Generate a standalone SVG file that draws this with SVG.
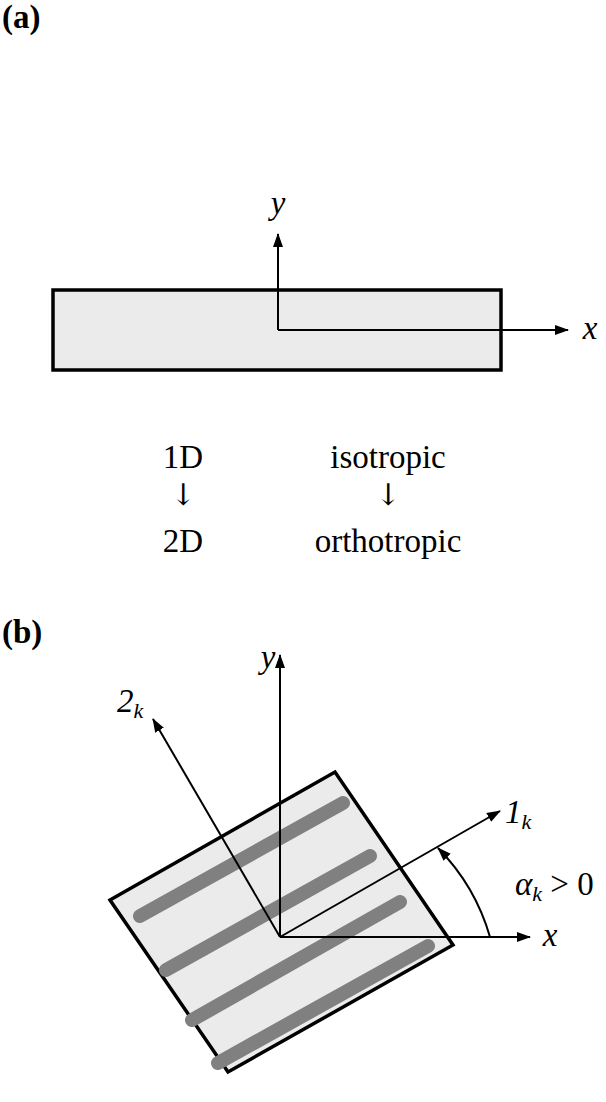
<svg xmlns="http://www.w3.org/2000/svg" width="606" height="1102" viewBox="0 0 606 1102">
<style>
.t{font-family:"Liberation Serif","DejaVu Serif",serif;font-size:33px;fill:#000}
.ar{font-family:"DejaVu Serif","DejaVu Sans",serif;font-size:30px;fill:#000}
.i{font-style:italic}
.b{font-weight:bold}
.ax{stroke:#000;stroke-width:2;fill:none}
.st{stroke:#808080;stroke-width:14;stroke-linecap:round}
</style>
<defs>
<marker id="ah2" markerWidth="14" markerHeight="14" refX="13" refY="5" orient="auto" markerUnits="userSpaceOnUse" viewBox="0 0 14 10">
<path d="M0,0 L14,5 L0,10 z" fill="#000"/>
</marker>
</defs>
<text class="t b" x="2" y="28">(a)</text>
<g id="beam"><rect x="53" y="290" width="448" height="80" fill="#ebebeb" stroke="#000" stroke-width="3.5"/></g>
<g id="connectors">
<line class="ax" x1="278" y1="330" x2="278" y2="234" marker-end="url(#ah2)"/>
<line class="ax" x1="278" y1="330" x2="568" y2="330" marker-end="url(#ah2)"/>
</g>
<text class="t i" x="278" y="214" text-anchor="middle">y</text>
<text class="t i" x="590" y="339" text-anchor="middle">x</text>
<g id="labels-a">
<text class="t" x="183" y="468" text-anchor="middle">1D</text>
<text class="ar" x="183" y="505" text-anchor="middle">↓</text>
<text class="t" x="183" y="552" text-anchor="middle">2D</text>
<text class="t" x="388" y="468" text-anchor="middle">isotropic</text>
<text class="ar" x="388" y="505" text-anchor="middle">↓</text>
<text class="t" x="388" y="552" text-anchor="middle">orthotropic</text>
</g>
<text class="t b" x="2" y="643">(b)</text>
<g id="lamina">
<polygon points="110,900 335,772 453,945 228,1072" fill="#ebebeb" stroke="#000" stroke-width="3.5"/>
<line class="st" x1="140" y1="916" x2="343" y2="803"/>
<line class="st" x1="166" y1="970" x2="370" y2="856"/>
<line class="st" x1="192" y1="1020" x2="400" y2="902"/>
<line class="st" x1="218" y1="1063" x2="428" y2="946"/>
</g>
<g id="connectors-b">
<line class="ax" x1="280" y1="937" x2="280" y2="655" marker-end="url(#ah2)"/>
<line class="ax" x1="280" y1="937" x2="530" y2="937" marker-end="url(#ah2)"/>
<line class="ax" x1="280" y1="937" x2="500" y2="811" marker-end="url(#ah2)"/>
<line class="ax" x1="280" y1="937" x2="153" y2="719" marker-end="url(#ah2)"/>
<path class="ax" d="M490,937 A210,210 0 0 0 438,848" marker-end="url(#ah2)"/>
</g>
<text class="t i" x="268" y="668" text-anchor="middle">y</text>
<text class="t i" x="117" y="712">2<tspan font-size="22" dy="6">k</tspan></text>
<text class="t i" x="505" y="823">1<tspan font-size="22" dy="6">k</tspan></text>
<text class="t i" x="515" y="895">α<tspan font-size="22" dy="6">k</tspan><tspan dy="-6" font-style="normal"> &gt; 0</tspan></text>
<text class="t i" x="550" y="946" text-anchor="middle">x</text>
</svg>
